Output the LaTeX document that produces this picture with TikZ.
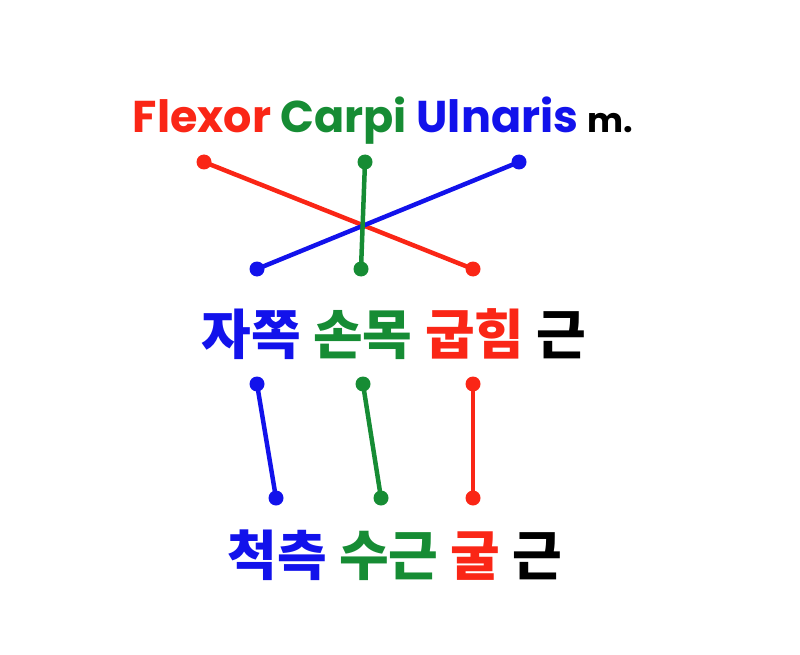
\documentclass[tikz,border=0pt]{standalone}
\usepackage{fontspec}
\usepackage{tikz}
\usetikzlibrary{positioning}
\newfontfamily\krfont{Noto Sans CJK KR Black}
\newfontfamily\enfont{Poppins}
\definecolor{mred}{RGB}{250,38,22}
\definecolor{mgreen}{RGB}{22,140,52}
\definecolor{mblue}{RGB}{18,18,235}

\begin{document}
\begin{tikzpicture}[x=1pt,y=-1pt,
  dot/.style={circle,fill,inner sep=0pt,minimum size=15pt},
  link/.style={line width=4.5pt},
  title/.style={font=\enfont\bfseries\fontsize{44.5}{48}\selectfont},
  hangul/.style={font=\krfont\fontsize{54}{60}\selectfont}]
  \useasboundingbox (0,0) rectangle (800,655);

  % labels
  \node[title,anchor=base] (eng) at (383,133) {\textcolor{mred}{Flexor} \textcolor{mgreen}{Carpi} \textcolor{mblue}{Ulnaris} {\fontsize{34}{38}\selectfont m.}};
  \node[hangul] (kor) at (394,334) {\textcolor{mblue}{자쪽} \textcolor{mgreen}{손목} \textcolor{mred}{굽힘} 근};
  \node[hangul] (sino) at (395,555) {\textcolor{mblue}{척측} \textcolor{mgreen}{수근} \textcolor{mred}{굴} 근};

  % dots
  \node[dot,mred]   (r1) at (204,162) {};
  \node[dot,mgreen] (g1) at (365,162) {};
  \node[dot,mblue]  (b1) at (519,162) {};
  \node[dot,mblue]  (b2) at (257,269) {};
  \node[dot,mgreen] (g2) at (361,269) {};
  \node[dot,mred]   (r2) at (473,269) {};
  \node[dot,mblue]  (b3) at (257,384) {};
  \node[dot,mgreen] (g3) at (363,384) {};
  \node[dot,mred]   (r3) at (473,384) {};
  \node[dot,mblue]  (b4) at (276,498) {};
  \node[dot,mgreen] (g4) at (381,498) {};
  \node[dot,mred]   (r4) at (473,498) {};

  \path[link] (r1.center) edge[mred] (r2.center)
        (b1.center) edge[mblue] (b2.center)
        (g1.center) edge[mgreen] (g2.center)
        (b3.center) edge[mblue] (b4.center)
        (g3.center) edge[mgreen] (g4.center)
        (r3.center) edge[mred] (r4.center);
\end{tikzpicture}
\end{document}
